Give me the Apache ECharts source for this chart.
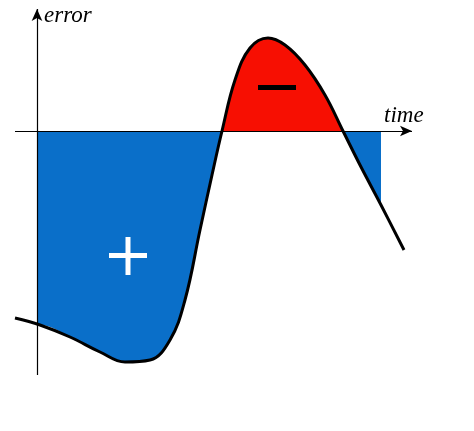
<!DOCTYPE html>
<html><head><meta charset="utf-8">
<script src="https://cdn.jsdelivr.net/npm/echarts@6/dist/echarts.min.js"></script>
<style>html,body{margin:0;background:#fff}#c{width:474px;height:431px}</style>
</head><body><div id="c"></div>
<script>
// curve samples: [time, error]
const curve = [[15,-187],[40,-194],[70,-206],[100,-221],[125,-231],[150,-229],[170,-209],[185,-169],[200,-99],[212,-44],[222,0],[235,51],[250,83],[268,93],[285,86],[305,66],[325,36],[343,0],[360,-34],[381,-74],[404,-119]];
const bluePos = [[37,-194],[40,-194],[70,-206],[100,-221],[125,-231],[150,-229],[170,-209],[185,-169],[200,-99],[212,-44],[222,0]];
const redNeg = [[222,0],[235,51],[250,83],[268,93],[285,86],[305,66],[325,36],[343,0]];
const blueTail = [[343,0],[360,-34],[381,-74]];
const axisLabels = ['error','time'];
const chart = echarts.init(document.getElementById('c'));
const fill = (d,c)=>({type:'line',data:d,smooth:0.4,symbol:'none',lineStyle:{width:0},areaStyle:{color:c,opacity:1},z:1});
chart.setOption({
  animation:false,
  grid:{left:0,right:0,top:0,bottom:0},
  xAxis:{type:'value',min:0,max:474,show:false},
  yAxis:{type:'value',min:-300,max:131,show:false},
  series:[
    fill(bluePos,'#0a6fc9'),fill(redNeg,'#f70f02'),fill(blueTail,'#0a6fc9'),
    {type:'line',data:curve,smooth:0.4,symbol:'none',lineStyle:{color:'#000',width:3},z:3,
     markLine:{silent:true,symbol:['none','arrow'],symbolSize:[8,12],lineStyle:{color:'#000',width:1.2,type:'solid'},label:{show:false},
       data:[[{coord:[15,0]},{coord:[412,0]}],[{coord:[37,-244]},{coord:[37,122]}]]}}
  ],
  graphic:[
    {type:'text',left:44,top:4,style:{text:axisLabels[0],font:'italic 23px "Liberation Serif", serif',fill:'#000'}},
    {type:'text',left:384,top:104,style:{text:axisLabels[1],font:'italic 23px "Liberation Serif", serif',fill:'#000'}},
    {type:'rect',shape:{x:109,y:253,width:38,height:5},style:{fill:'#fff'},z:10},
    {type:'rect',shape:{x:125.5,y:237,width:5,height:38},style:{fill:'#fff'},z:10},
    {type:'rect',shape:{x:258,y:85,width:38,height:5},style:{fill:'#000'},z:10}
  ]
});
</script></body></html>
